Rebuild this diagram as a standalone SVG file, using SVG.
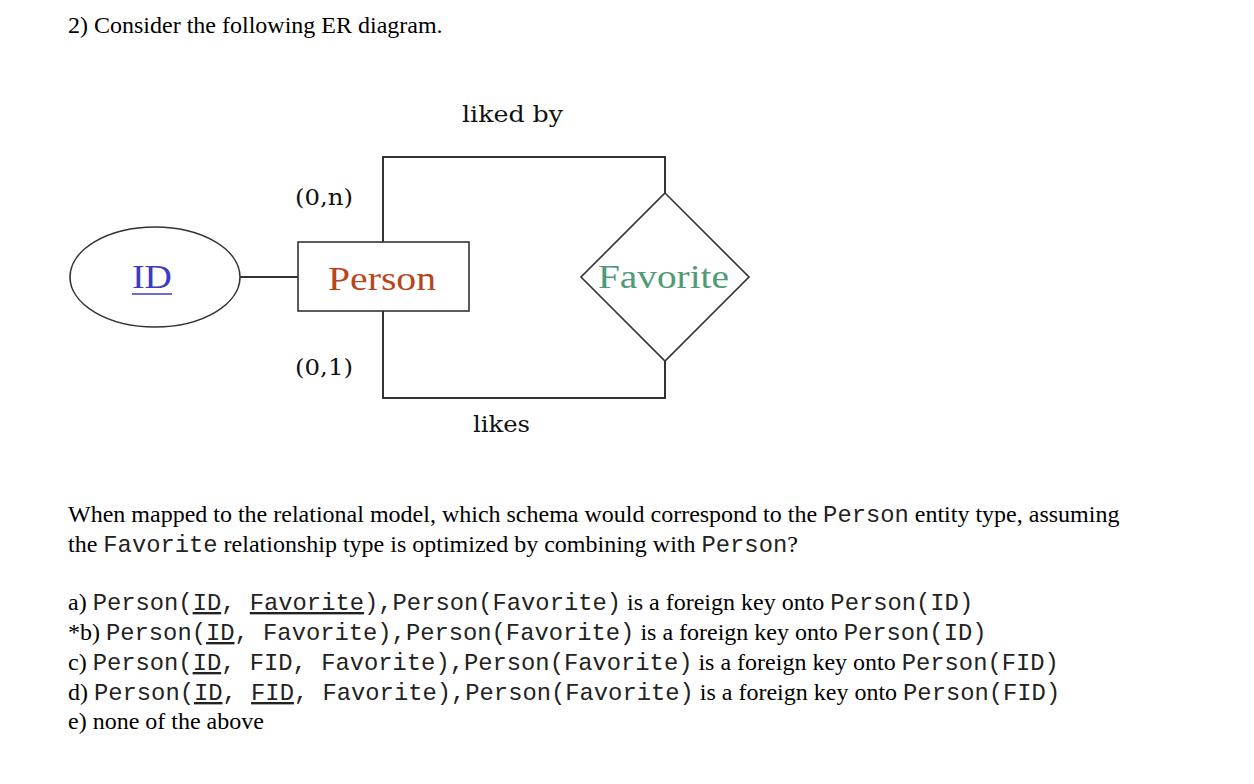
<svg xmlns="http://www.w3.org/2000/svg" width="1254" height="784" viewBox="0 0 1254 784">
<style>
.t{font-family:"Liberation Serif","Times New Roman",serif;font-size:24px;fill:#000}
.m{font-family:"Courier New","Nimbus Mono PS","FreeMono","Liberation Mono",monospace;font-size:23.8px;fill:#222}
.u{text-decoration:underline}
.lbl{font-family:"DejaVu Serif","Liberation Serif",serif;font-size:22px;fill:#111}
.big{font-family:"Liberation Serif","Times New Roman",serif;font-size:34px}
.edge{fill:none;stroke:#333;stroke-width:2}
.shape{fill:#fff;stroke:#333;stroke-width:1.6}
</style>
<rect width="1254" height="784" fill="#fff"/>
<text class="t" x="68" y="33">2) Consider the following ER diagram.</text>

<g id="connectors">
<line class="edge" x1="240" y1="277" x2="298" y2="277"/>
<polyline class="edge" points="383,242 383,157 665,157 665,193"/>
<polyline class="edge" points="383,311 383,398 665,398 665,361"/>
</g>

<g id="labels">
<text class="lbl" x="462" y="122" textLength="101" lengthAdjust="spacingAndGlyphs">liked by</text>
<text class="lbl" x="295" y="205" textLength="58" lengthAdjust="spacingAndGlyphs">(0,n)</text>
<text class="lbl" x="295" y="375" textLength="58" lengthAdjust="spacingAndGlyphs">(0,1)</text>
<text class="lbl" x="473" y="432" textLength="57" lengthAdjust="spacingAndGlyphs">likes</text>
</g>

<g id="ID">
<ellipse class="shape" cx="155" cy="277" rx="85" ry="50"/>
<text class="big" x="132" y="288" fill="#3a3ac4" textLength="40" lengthAdjust="spacingAndGlyphs">ID</text>
<line x1="132" y1="294" x2="172" y2="294" stroke="#3a3ac4" stroke-width="1.6"/>
</g>

<g id="Person">
<rect class="shape" x="298" y="242" width="171" height="69"/>
<text class="big" x="328" y="290" fill="#b8461b" textLength="108" lengthAdjust="spacingAndGlyphs">Person</text>
</g>

<g id="Favorite">
<polygon class="shape" points="665,193 749,277 665,361 581,277"/>
<text class="big" x="598" y="288" fill="#4f9a78" textLength="131" lengthAdjust="spacingAndGlyphs">Favorite</text>
</g>

<text class="t" x="68" y="522">When mapped to the relational model, which schema would correspond to the <tspan class="m">Person</tspan> entity type, assuming</text>
<text class="t" x="68" y="552">the <tspan class="m">Favorite</tspan> relationship type is optimized by combining with <tspan class="m">Person</tspan>?</text>

<text class="t" x="68" y="610">a) <tspan class="m">Person(<tspan class="u">ID</tspan>, <tspan class="u">Favorite</tspan>),Person(Favorite)</tspan> is a foreign key onto <tspan class="m">Person(ID)</tspan></text>
<text class="t" x="68" y="640">*b) <tspan class="m">Person(<tspan class="u">ID</tspan>, Favorite),Person(Favorite)</tspan> is a foreign key onto <tspan class="m">Person(ID)</tspan></text>
<text class="t" x="68" y="670">c) <tspan class="m">Person(<tspan class="u">ID</tspan>, FID, Favorite),Person(Favorite)</tspan> is a foreign key onto <tspan class="m">Person(FID)</tspan></text>
<text class="t" x="68" y="700">d) <tspan class="m">Person(<tspan class="u">ID</tspan>, <tspan class="u">FID</tspan>, Favorite),Person(Favorite)</tspan> is a foreign key onto <tspan class="m">Person(FID)</tspan></text>
<text class="t" x="68" y="729">e) none of the above</text>
</svg>
